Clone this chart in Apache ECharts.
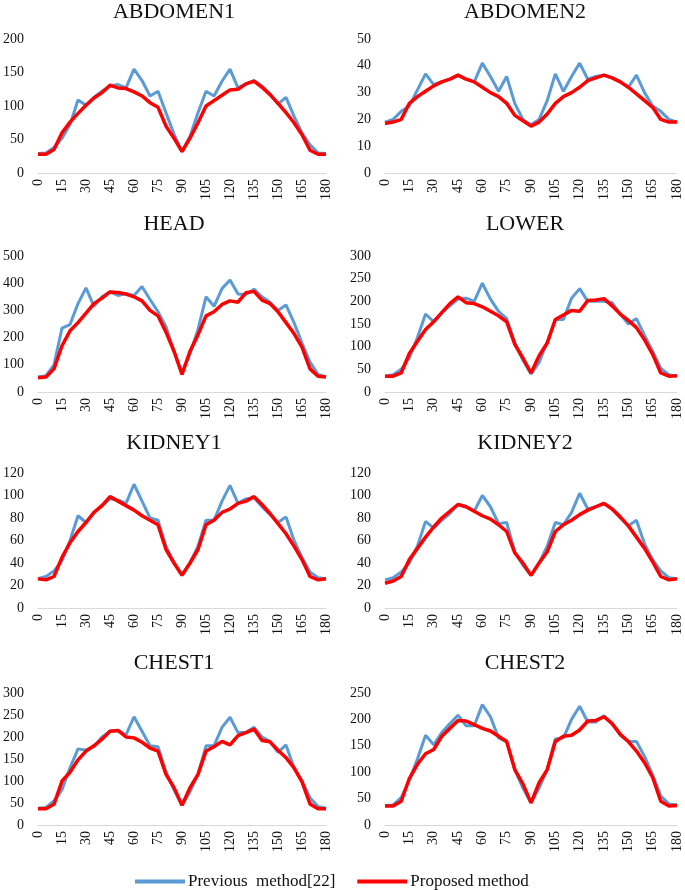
<!DOCTYPE html>
<html>
<head>
<meta charset="utf-8">
<script src="https://cdn.jsdelivr.net/npm/echarts@6/dist/echarts.min.js"></script>
<style>html,body{margin:0;padding:0;background:#fff}#c{width:685px;height:890px}</style>
</head>
<body>
<div id="c"></div>
<script>
const angles = ['0','5','10','15','20','25','30','35','40','45','50','55','60','65','70','75','80','85','90','95','100','105','110','115','120','125','130','135','140','145','150','155','160','165','170','175','180'];
const seriesNames = ['Previous  method[22]', 'Proposed method'];
const panelTitles = ['ABDOMEN1','ABDOMEN2','HEAD','LOWER','KIDNEY1','KIDNEY2','CHEST1','CHEST2'];
const yMax = [200, 50, 500, 300, 120, 120, 300, 250];
const yStep = [50, 10, 100, 50, 20, 20, 50, 50];

const abdomen1Prev = [29,30,38,52,72,109,101,113,122,130,132,127,155,138,115,122,90,58,32,55,90,122,115,137,155,127,133,138,130,118,103,113,85,60,42,30,29];
const abdomen1Prop = [28,28,35,60,76,89,101,112,120,131,127,126,121,115,105,98,70,52,32,52,75,100,108,116,124,125,133,137,128,117,104,90,75,57,34,28,28];
const abdomen2Prev = [19,20,23,25,31,37,33,34,35,36.5,35,34,41,36,30.5,36,26,20,18,20,27,37,30.5,36,41,35,36,36.5,35.5,34,32,36.5,30,25,23,20,19];
const abdomen2Prop = [18.5,19,20,26,28.5,30.5,32.5,34,35,36.5,35,34,32,30,28.5,26,21.5,19.5,17.5,19,22,26,28.5,30,32,34.5,35.5,36.5,35.5,34,32,29.5,27,24.5,20,19,19];
const headPrev = [55,60,100,235,248,325,383,315,350,368,355,362,355,388,340,295,240,150,70,140,230,350,315,380,412,360,358,378,350,330,300,320,255,180,110,65,55];
const headProp = [52,55,85,170,225,255,290,325,345,368,366,360,350,335,300,280,220,150,65,150,210,280,295,322,335,330,365,370,338,325,295,255,215,165,85,58,55];
const lowerPrev = [35,38,50,75,120,172,155,175,190,205,207,200,240,205,178,162,110,70,40,65,110,160,160,207,228,200,200,200,197,172,150,162,125,90,52,38,35];
const lowerProp = [35,35,42,85,112,138,155,175,195,210,197,195,188,178,168,155,105,75,42,80,108,160,170,180,178,202,203,206,190,172,158,142,115,83,42,35,36];
const kidney1Prev = [26,28,33,42,60,82,76,85,91,97,96,93,110,95,80,78,55,40,30,40,55,78,78,95,109,93,97,98,90,83,76,81,60,45,32,27,26];
const kidney1Prop = [26,25,28,45,58,68,76,85,91,99,95,91,87,82,78,74,52,40,29,40,52,74,78,85,88,93,95,99,92,84,75,66,55,43,28,25,26];
const kidney2Prev = [25,27,32,40,55,77,71,78,84,92,90,86,100,90,75,76,50,38,29,40,55,76,74,85,102,88,90,93,88,80,73,78,57,43,33,27,26];
const kidney2Prop = [22,24,28,43,53,63,72,80,86,92,90,86,82,79,74,68,49,40,29,40,50,68,74,78,83,87,90,93,88,81,73,63,53,41,28,25,26];
const chest1Prev = [38,40,55,80,130,173,170,178,200,213,215,205,246,213,180,178,120,80,45,75,115,180,180,222,245,210,210,222,200,190,165,182,130,100,62,42,38];
const chest1Prop = [37,37,47,100,120,148,168,180,195,213,215,200,198,188,175,168,115,85,45,85,115,168,178,190,182,203,210,218,192,189,170,153,130,98,48,37,37];
const chest2Prev = [37,38,52,85,125,170,152,175,192,208,188,188,228,205,165,158,105,70,42,70,105,163,165,200,225,195,195,207,192,170,158,158,130,95,55,40,38];
const chest2Prop = [36,36,45,88,115,135,143,168,183,198,197,190,183,178,168,158,105,78,42,80,105,158,168,170,180,197,198,205,192,172,158,140,118,90,45,36,37];

const prevData = [abdomen1Prev, abdomen2Prev, headPrev, lowerPrev, kidney1Prev, kidney2Prev, chest1Prev, chest2Prev];
const propData = [abdomen1Prop, abdomen2Prop, headProp, lowerProp, kidney1Prop, kidney2Prop, chest1Prop, chest2Prop];

const FONT = 'Liberation Serif, Times New Roman, serif';
const cols = [{left: 37, width: 289, tx: 174}, {left: 385, width: 292, tx: 525}];
const rows = [{top: 39, height: 134, ty: 12}, {top: 256, height: 136, ty: 224}, {top: 473, height: 135, ty: 443}, {top: 693, height: 132, ty: 663}];

const grids = [], xAxes = [], yAxes = [], series = [], graphics = [];
for (let i = 0; i < 8; i++) {
  const c = cols[i % 2], r = rows[Math.floor(i / 2)];
  grids.push({left: c.left, width: c.width, top: r.top, height: r.height, containLabel: false});
  xAxes.push({
    type: 'category', gridIndex: i, data: angles, boundaryGap: false,
    axisLine: {show: true, lineStyle: {color: '#D9D9D9', width: 1}},
    axisTick: {show: false},
    axisLabel: {interval: 2, rotate: 90, margin: 6, color: '#111', fontFamily: FONT, fontSize: 14}
  });
  yAxes.push({
    type: 'value', gridIndex: i, min: 0, max: yMax[i], interval: yStep[i],
    axisLine: {show: false}, axisTick: {show: false}, splitLine: {show: false},
    axisLabel: {margin: 14, color: '#111', fontFamily: FONT, fontSize: 14}
  });
  series.push({
    name: seriesNames[0], type: 'line', xAxisIndex: i, yAxisIndex: i, data: prevData[i],
    symbol: 'none', lineStyle: {color: '#5B9BD5', width: 3}, itemStyle: {color: '#5B9BD5'},
    animation: false, z: 2
  });
  series.push({
    name: seriesNames[1], type: 'line', xAxisIndex: i, yAxisIndex: i, data: propData[i],
    symbol: 'none', lineStyle: {color: '#FF0000', width: 3.5}, itemStyle: {color: '#FF0000'},
    animation: false, z: 3
  });
  graphics.push({
    type: 'text', x: c.tx, y: r.ty,
    style: {text: panelTitles[i], font: '22px ' + FONT, fill: '#111', textAlign: 'center', textVerticalAlign: 'middle'}
  });
}

const chart = echarts.init(document.getElementById('c'), null, {renderer: 'canvas'});
chart.setOption({
  animation: false,
  backgroundColor: '#fff',
  grid: grids, xAxis: xAxes, yAxis: yAxes, series: series,
  graphic: graphics,
  legend: {
    data: [
      {name: seriesNames[0], icon: 'rect', itemStyle: {color: '#5B9BD5'}},
      {name: seriesNames[1], icon: 'rect', itemStyle: {color: '#FF0000'}}
    ],
    left: 130, top: 868, itemWidth: 50, itemHeight: 4, itemGap: 22,
    textStyle: {fontFamily: FONT, fontSize: 17, color: '#111', padding: [0, 0, 0, -2]}
  }
});
</script>
</body>
</html>
